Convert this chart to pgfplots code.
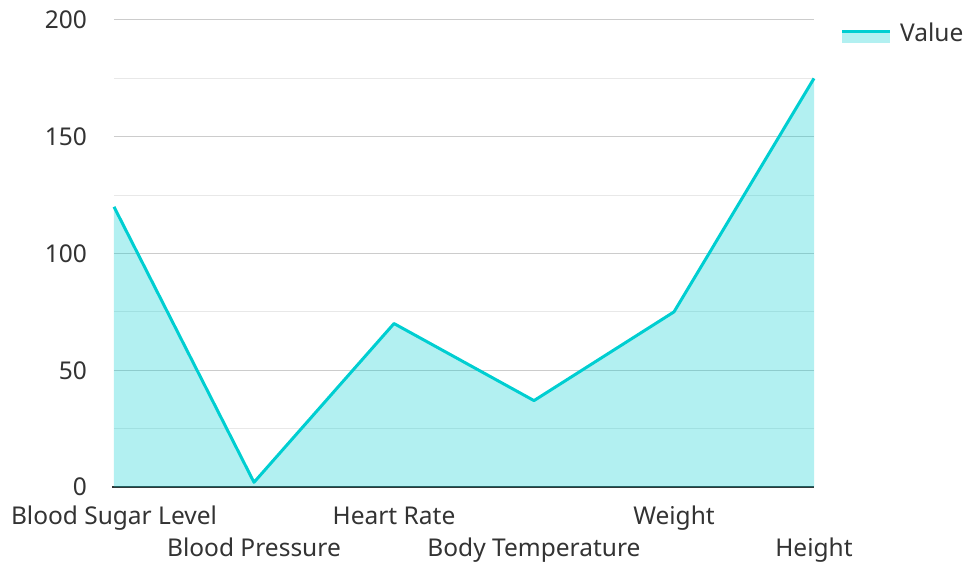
\documentclass[border=0pt]{standalone}
\usepackage{pgfplots}
\pgfplotsset{compat=1.18}
\usepackage{fontspec}
\setmainfont{Noto Sans}
\definecolor{lc}{HTML}{00CED1}
\definecolor{fc}{HTML}{B2F0F1}
\definecolor{tc}{HTML}{333333}
\definecolor{gmaj}{HTML}{CCCCCC}
\definecolor{gmin}{HTML}{E8E8E8}
\begin{document}
\begin{tikzpicture}
\useasboundingbox (-114bp,-75bp) rectangle (850bp,487bp);
\begin{axis}[
  at={(0,0)}, anchor=south west,
  scale only axis, width=700bp, height=467bp,
  xmin=0, xmax=5, ymin=0, ymax=200,
  axis x line*=bottom, axis y line*=left,
  y axis line style={draw=none},
  x axis line style={draw=tc, line width=1.5bp, shorten <=-2bp},
  xtick={0,1,2,3,4,5},
  xticklabels={{\strut Blood Sugar Level},{\strut\\\strut Blood Pressure},{\strut Heart Rate},{\strut\\\strut Body Temperature},{\strut Weight},{\strut\\\strut Height}},
  xticklabel style={align=center, font=\fontsize{24.5bp}{32bp}\selectfont, text=tc, inner sep=0pt, anchor=north, yshift=-15bp},
  major tick length=0pt, minor tick length=0pt,
  ytick={0,50,100,150,200},
  minor ytick={25,75,125,175},
  ymajorgrids, yminorgrids,
  major grid style={draw=gmaj, line width=1bp},
  minor grid style={draw=gmin, line width=1bp},
  yticklabel style={font=\fontsize{24.5bp}{28bp}\selectfont, text=tc, inner sep=0pt, anchor=east, xshift=-27bp},
  /pgf/number format/assume math mode=true,
  clip=false,
]
\addplot[draw=none, fill=lc, fill opacity=0.3] coordinates {(0,120)(1,2)(2,70)(3,37)(4,75)(5,175)} \closedcycle;
\addplot[draw=lc, line width=3bp, line join=round] coordinates {(0,120)(1,2)(2,70)(3,37)(4,75)(5,175)};
\end{axis}
\fill[fc] (728bp,444bp) rectangle (776bp,456bp);
\draw[lc, line width=3bp] (728bp,455bp) -- (776bp,455bp);
\node[anchor=west, text=tc, font=\fontsize{24.5bp}{28bp}\selectfont, inner sep=0pt] at (786bp,455bp) {Value};
\end{tikzpicture}
\end{document}
